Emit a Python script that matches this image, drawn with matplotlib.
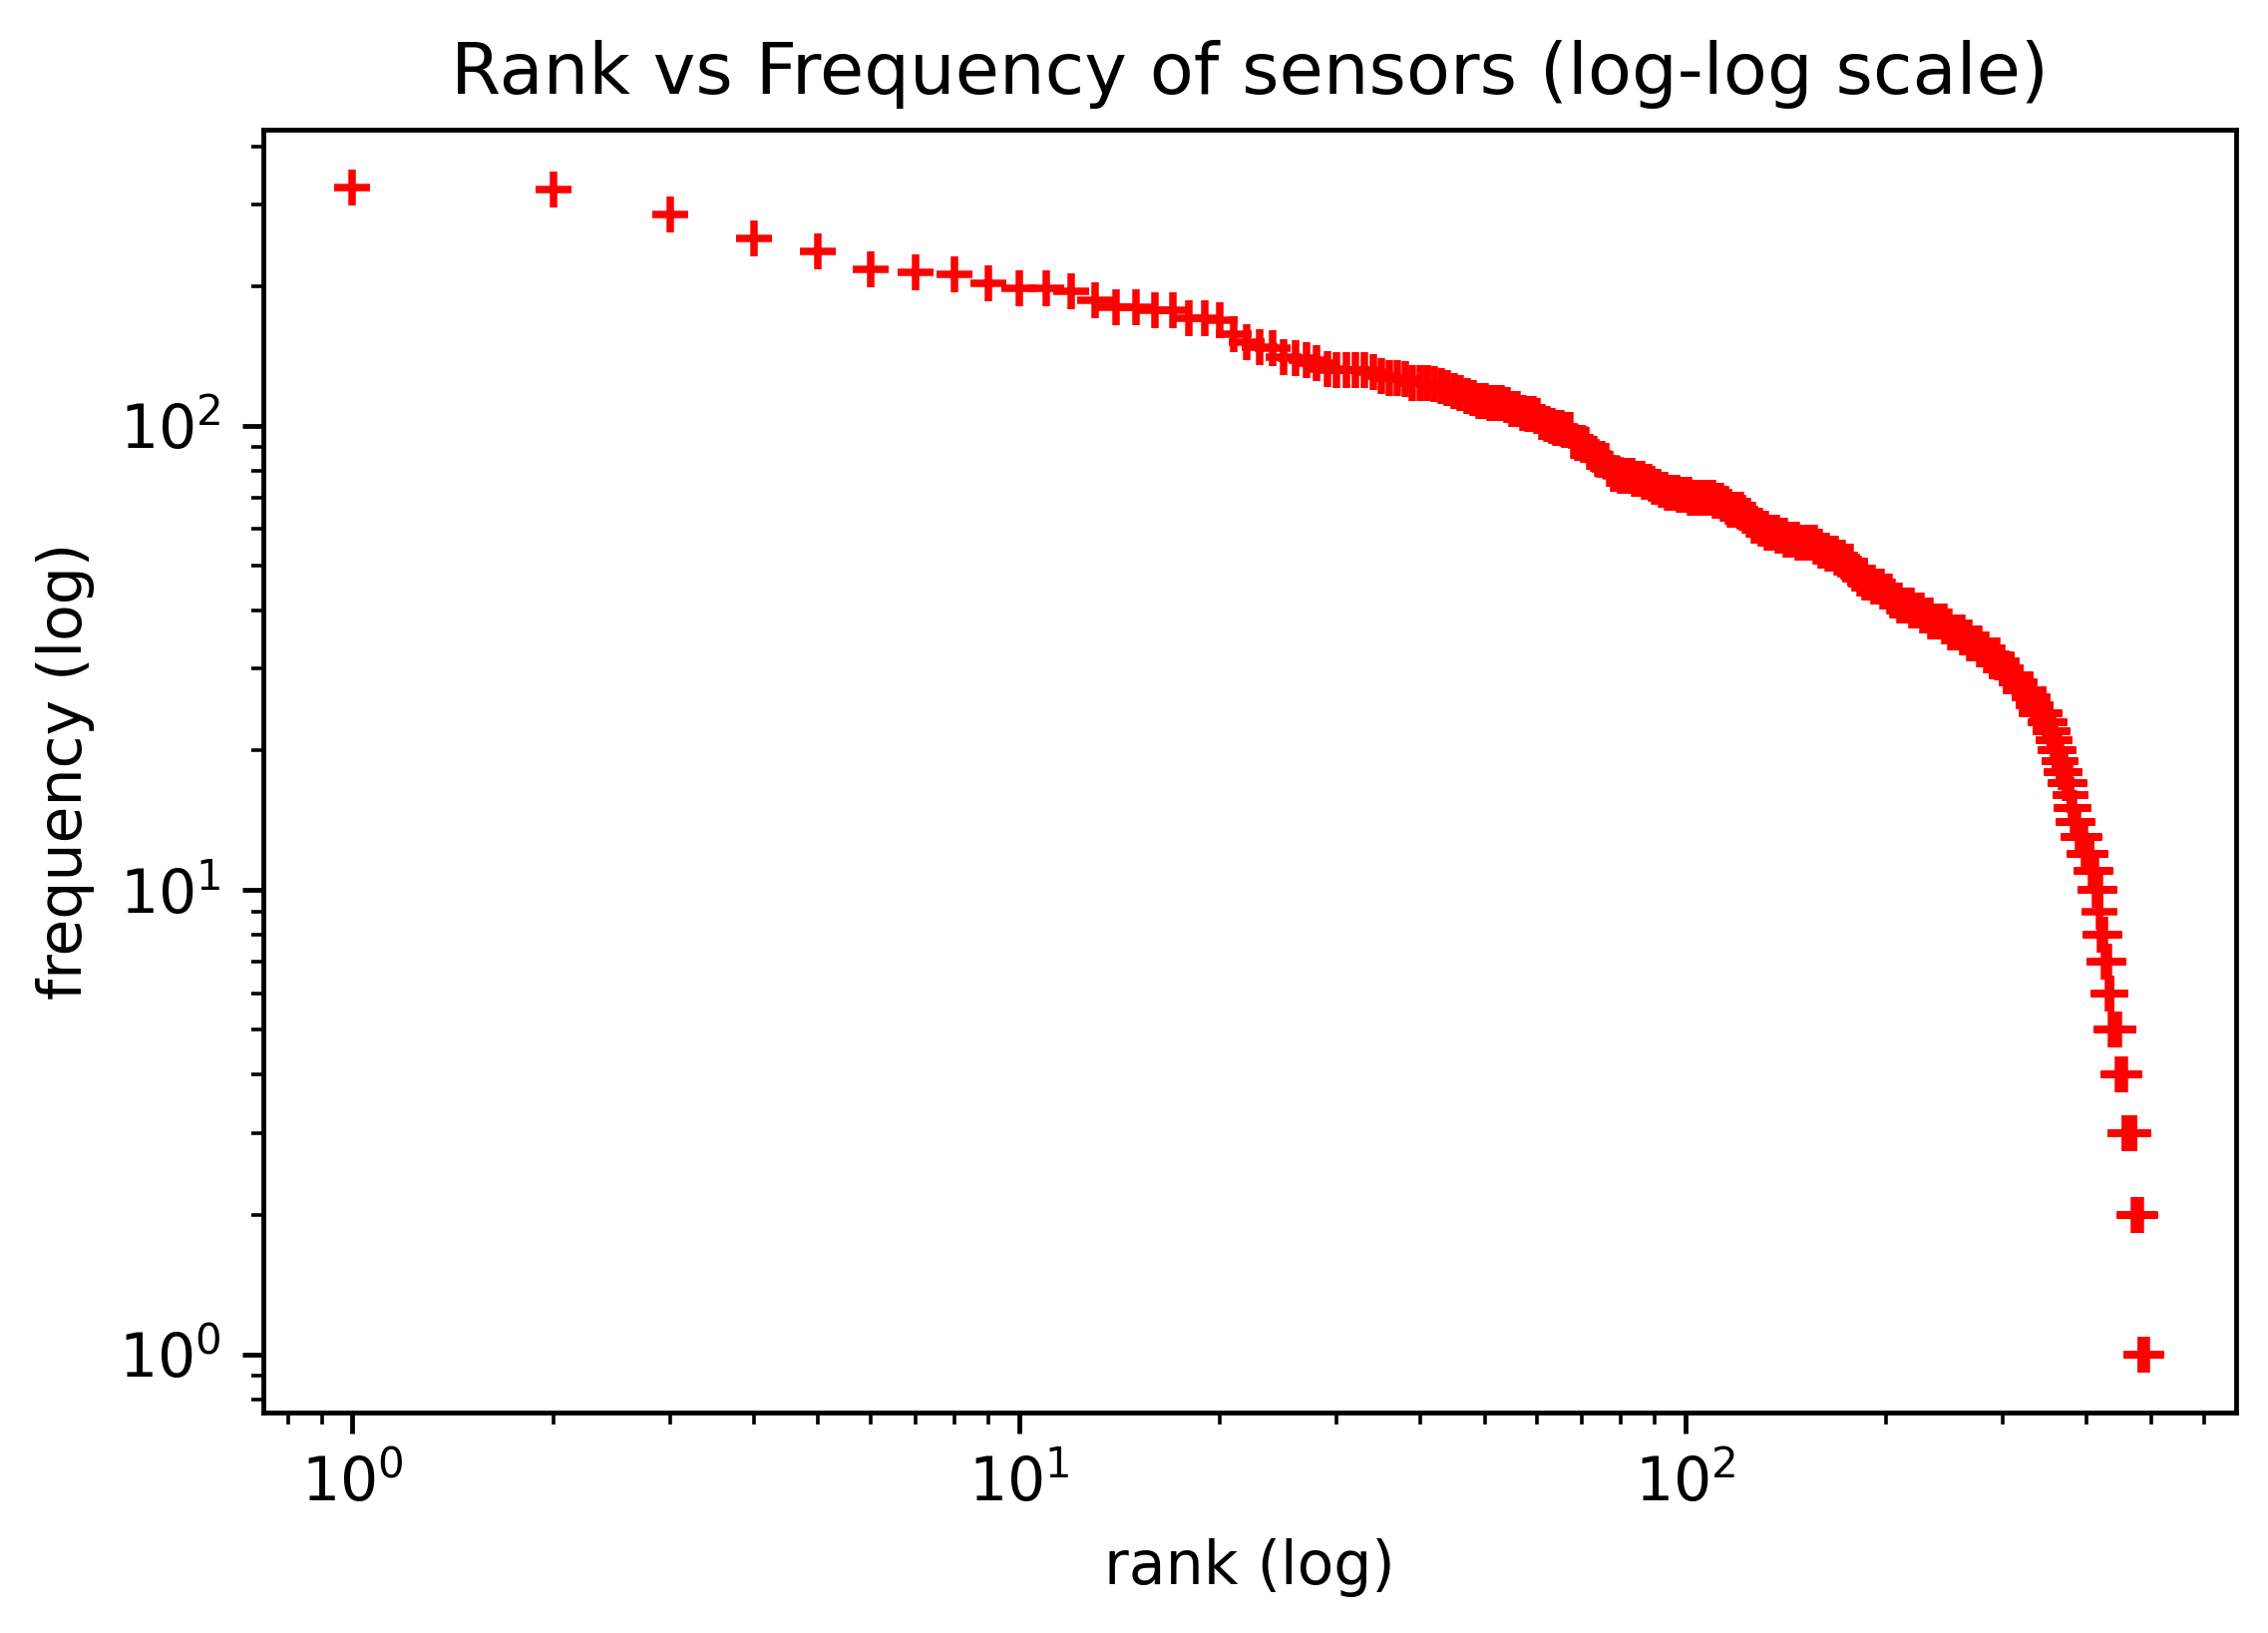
import numpy as np
import matplotlib
matplotlib.use("Agg")
import matplotlib.pyplot as plt

# Frequency levels (descending) and how many consecutive ranks share each level
freq_levels = [326, 324, 286, 254, 238, 218, 215, 212, 203, 198, 195, 187, 180, 178,
               171, 169, 158, 152, 148, 147, 141, 140, 139, 137, 133, 132, 131, 128,
               127, 126, 124, 123, 122, 121, 119, 118, 116, 115, 113, 112, 111, 109,
               107, 106, 105, 102, 101, 100, 99, 98, 93, 92, 91, 88, 87, 85, 84, 81,
               79, 78, 77, 76, 75, 74, 73, 72, 71, 70, 69, 68, 67, 66, 65, 64, 63, 61,
               60, 59, 58, 57, 56, 55, 54, 53, 52, 51, 49, 48, 47, 46, 45, 44, 43, 42,
               41, 40, 39, 38, 37, 36, 35, 34, 33, 32, 31, 30, 29, 28, 27, 26, 25, 24,
               23, 22, 21, 20, 19, 18, 17, 16, 15, 14, 13, 12, 11, 10, 9, 8, 7, 6, 5,
               4, 3, 2, 1]
level_counts = [1, 1, 1, 1, 1, 1, 1, 1, 1, 2, 1, 1, 2, 2,
                2, 1, 1, 1, 1, 1, 1, 1, 1, 1, 1, 4, 1, 1,
                2, 1, 3, 1, 1, 1, 1, 1, 1, 1, 2, 3, 1, 2,
                1, 2, 1, 1, 1, 1, 2, 2, 1, 2, 1, 1, 1, 2, 1, 1,
                2, 4, 3, 2, 1, 2, 2, 4, 4, 9, 3, 2, 1, 5, 1, 2, 2, 3,
                3, 5, 4, 6, 9, 3, 4, 5, 4, 5, 2, 3, 3, 6, 6, 5, 2, 5,
                9, 8, 7, 11, 5, 11, 6, 10, 6, 11, 5, 5, 10, 5, 10, 4, 4, 10,
                6, 4, 2, 5, 3, 5, 6, 2, 3, 6, 9, 9, 6, 6, 1, 6, 6, 4, 11,
                10, 15, 11, 10]

frequency = np.repeat(freq_levels, level_counts)
rank = np.arange(1, len(frequency) + 1)

title = "Rank vs Frequency of sensors (log-log scale)"
xlabel = "rank (log)"
ylabel = "frequency (log)"

DPI = 432
fig = plt.figure(figsize=(2274 / DPI, 1637 / DPI), dpi=DPI)
ax = fig.add_axes([0.1159, 0.135, 0.9859 - 0.1159, 0.9206 - 0.135])
ax.plot(rank, frequency, linestyle="none", marker="+", color="red",
        markersize=6.0, markeredgewidth=1.25)
ax.set_xscale("log")
ax.set_yscale("log")
ax.set_title(title, fontsize=12)
ax.set_xlabel(xlabel, fontsize=10)
ax.set_ylabel(ylabel, fontsize=10)
ax.tick_params(labelsize=10)
fig.savefig("out.png", dpi=DPI)
